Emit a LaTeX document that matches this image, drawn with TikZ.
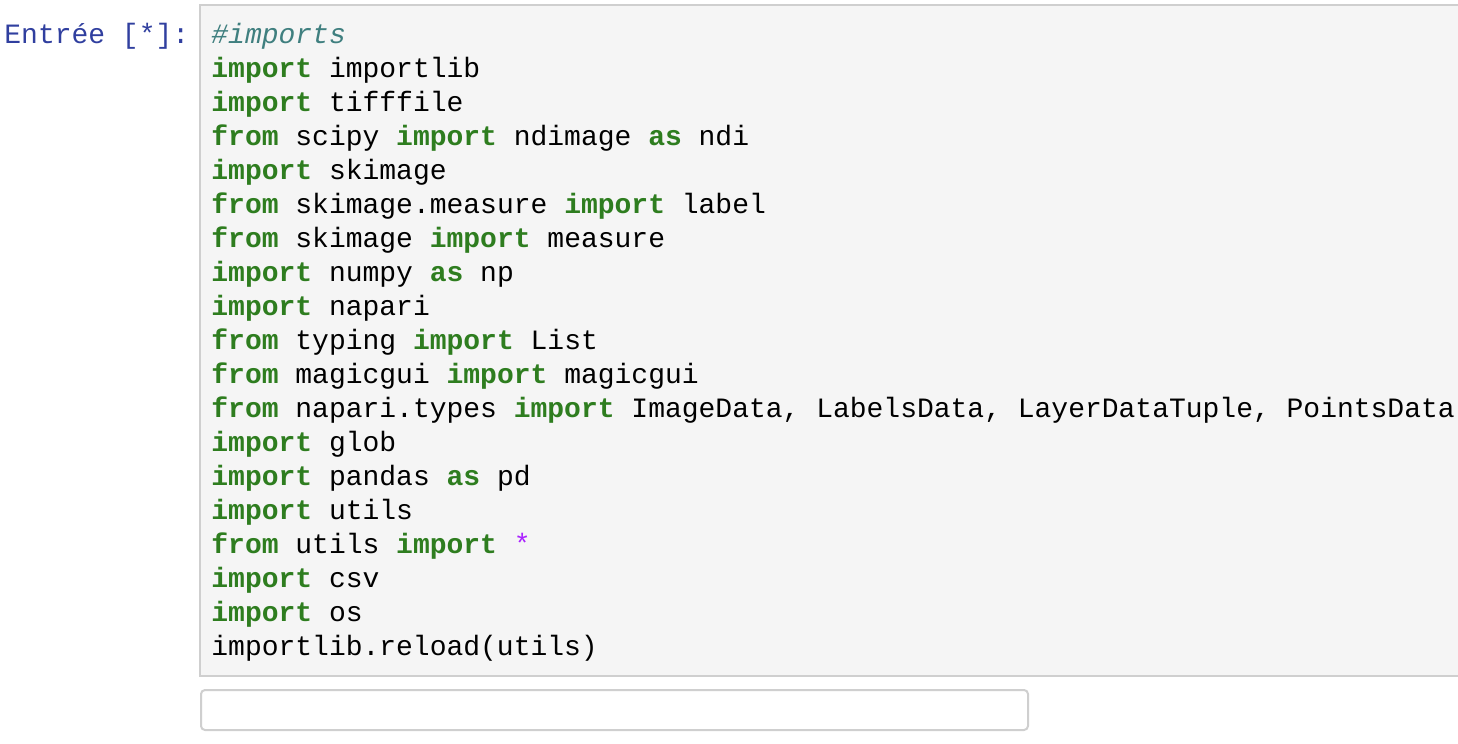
\documentclass[tikz,border=0pt]{standalone}
\usepackage{fontspec}
\setmonofont{Liberation Mono}
\definecolor{kwgreen}{HTML}{2E7D1F}
\definecolor{cmteal}{HTML}{3F7F7F}
\definecolor{prblue}{HTML}{303F9F}
\definecolor{oppurple}{HTML}{AA22FF}
\definecolor{cellgrey}{HTML}{F5F5F5}
\definecolor{cellline}{HTML}{CFCFCF}
\newcommand\kw[1]{\textcolor{kwgreen}{\textbf{#1}}}
\tikzset{
	code/.style={anchor=base west, inner sep=0pt, font=\ttfamily\fontsize{14}{16}\selectfont},
}
\begin{document}
\begin{tikzpicture}[x=0.5pt,y=-0.5pt]
	\useasboundingbox (0,0) rectangle (1458,744);
	% Cellule
		\fill[cellgrey] (200,5) rectangle (1470,676);
		\draw[cellline, line width=1pt] (1470,5) -- (200,5) -- (200,676) -- (1470,676);
		\draw[cellline, line width=1pt, rounded corners=2pt, fill=white] (201,690) rectangle (1028,730);
	% Invite
		\node[code, text=prblue] (prompt) at (4,43) {Entrée [*]:};
	% Code
		\node[code, text=cmteal] (l1) at (211,43) {\itshape\#imports};
		\node[code] (l2) at (211,77) {\kw{import} importlib};
		\node[code] (l3) at (211,111) {\kw{import} tifffile};
		\node[code] (l4) at (211,145) {\kw{from} scipy \kw{import} ndimage \kw{as} ndi};
		\node[code] (l5) at (211,179) {\kw{import} skimage};
		\node[code] (l6) at (211,213) {\kw{from} skimage.measure \kw{import} label};
		\node[code] (l7) at (211,247) {\kw{from} skimage \kw{import} measure};
		\node[code] (l8) at (211,281) {\kw{import} numpy \kw{as} np};
		\node[code] (l9) at (211,315) {\kw{import} napari};
		\node[code] (l10) at (211,349) {\kw{from} typing \kw{import} List};
		\node[code] (l11) at (211,383) {\kw{from} magicgui \kw{import} magicgui};
		\node[code] (l12) at (211,417) {\kw{from} napari.types \kw{import} ImageData, LabelsData, LayerDataTuple, PointsData};
		\node[code] (l13) at (211,451) {\kw{import} glob};
		\node[code] (l14) at (211,485) {\kw{import} pandas \kw{as} pd};
		\node[code] (l15) at (211,519) {\kw{import} utils};
		\node[code] (l16) at (211,553) {\kw{from} utils \kw{import} \textcolor{oppurple}{*}};
		\node[code] (l17) at (211,587) {\kw{import} csv};
		\node[code] (l18) at (211,621) {\kw{import} os};
		\node[code] (l19) at (211,655) {importlib.reload(utils)};
\end{tikzpicture}
\end{document}
